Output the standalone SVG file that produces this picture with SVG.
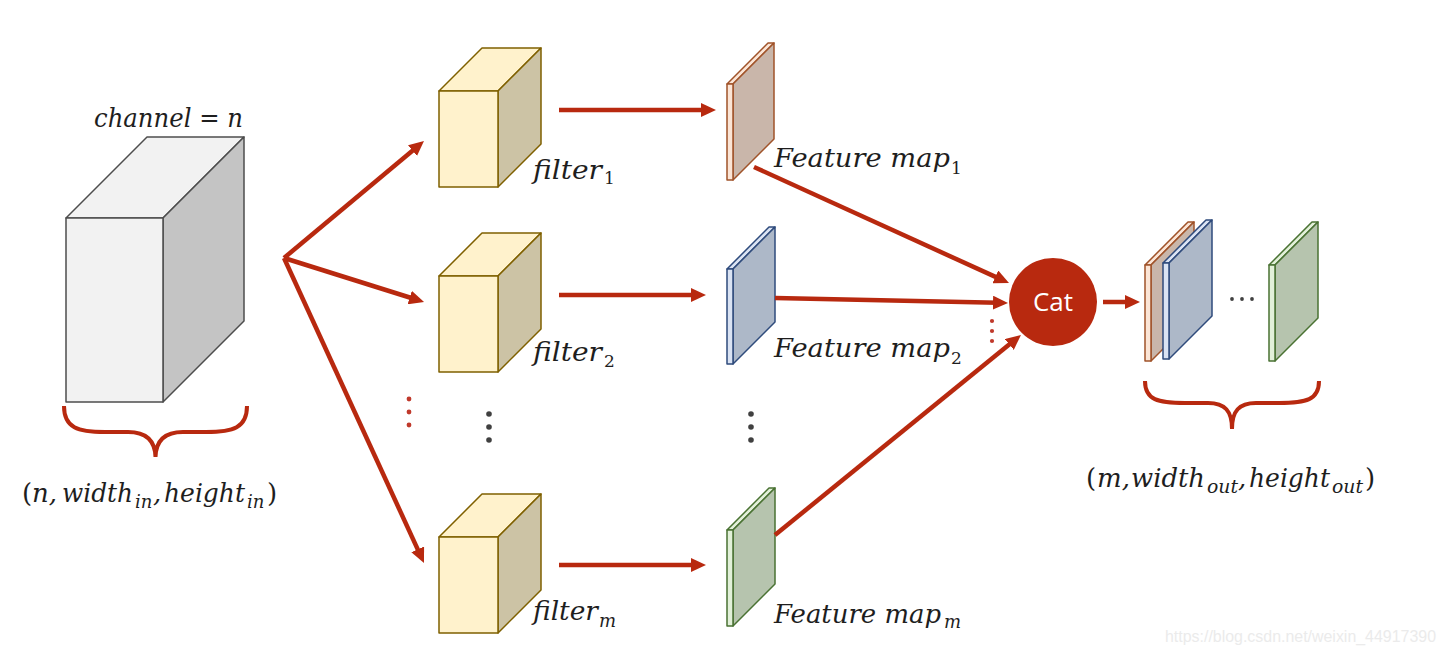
<svg xmlns="http://www.w3.org/2000/svg" width="1445" height="654" viewBox="0 0 1445 654">
<style>
.m{font-family:"DejaVu Serif","Liberation Serif",serif;font-style:italic;fill:#1e1e1e;font-size:26px}
.s{font-family:"DejaVu Serif","Liberation Serif",serif;font-style:italic;fill:#1e1e1e;font-size:18px}
.u{font-family:"DejaVu Serif","Liberation Serif",serif;font-style:normal;fill:#1e1e1e;font-size:17px}
.p{font-family:"DejaVu Serif","Liberation Serif",serif;font-style:normal;fill:#1e1e1e;font-size:26px}
.arr{stroke:#B8290F;stroke-width:4.5;fill:none;marker-end:url(#ah)}
.brace{stroke:#B8290F;stroke-width:4;fill:none}
.bigF{fill:#F2F2F2;stroke:#4D4D4D;stroke-width:1.5;stroke-linejoin:round}
.bigS{fill:#C4C4C4;stroke:#4D4D4D;stroke-width:1.5;stroke-linejoin:round}
.fF{fill:#FFF2CC;stroke:#7F6000;stroke-width:1.5;stroke-linejoin:round}
.fS{fill:#CCC3A5;stroke:#7F6000;stroke-width:1.5;stroke-linejoin:round}
.oL{fill:#FBE5D6;stroke:#A0532A;stroke-width:1.5;stroke-linejoin:round}
.oS{fill:#C9B6AA;stroke:#A0532A;stroke-width:1.5;stroke-linejoin:round}
.bL{fill:#DAE3F3;stroke:#2F4B7C;stroke-width:1.5;stroke-linejoin:round}
.bS{fill:#ADB8C8;stroke:#2F4B7C;stroke-width:1.5;stroke-linejoin:round}
.gL{fill:#E2F0D9;stroke:#4A7233;stroke-width:1.5;stroke-linejoin:round}
.gS{fill:#B6C4AE;stroke:#4A7233;stroke-width:1.5;stroke-linejoin:round}
.rd{fill:#C0392B}
.dd{fill:#404040}
</style>
<defs>
<marker id="ah" markerUnits="userSpaceOnUse" markerWidth="15" markerHeight="14" viewBox="0 0 15 14" refX="5" refY="7" orient="auto">
<path d="M0,0 L15,7 L0,14 z" fill="#B8290F"/>
</marker>
<g id="fcube">
<polygon class="fF" points="0,0 43,-43 102,-43 59,0"/>
<polygon class="fS" points="59,0 102,-43 102,53 59,96"/>
<rect class="fF" x="0" y="0" width="59" height="96"/>
</g>
</defs>
<rect width="1445" height="654" fill="#FFFFFF"/>

<g id="input">
<polygon class="bigF" points="66,218 147,137 244,137 163,218"/>
<polygon class="bigS" points="163,218 244,137 244,321 163,402"/>
<rect class="bigF" x="66" y="218" width="97" height="184"/>
<text class="m" x="94" y="127" textLength="149" lengthAdjust="spacingAndGlyphs">channel = n</text>
<path class="brace" d="M64,406 C64,428 78,432 105,432 L128,432 C146,432 155,440 155.5,457 C156,440 165,432 183,432 L206,432 C233,432 247,428 247,406"/>
<text class="p" x="22" y="502">(</text>
<text class="m" x="32" y="502">n,</text>
<text class="m" x="62" y="502" textLength="71" lengthAdjust="spacingAndGlyphs">width</text>
<text class="s" x="135" y="508">in</text>
<text class="m" x="153" y="502">,</text>
<text class="m" x="164" y="502" textLength="81" lengthAdjust="spacingAndGlyphs">height</text>
<text class="s" x="247" y="508">in</text>
<text class="p" x="267" y="502">)</text>
</g>

<g id="filter1">
<use href="#fcube" x="439" y="91"/>
<text class="m" x="533" y="179" textLength="69" lengthAdjust="spacingAndGlyphs">filter</text>
<text class="u" x="604" y="184">1</text>
</g>
<g id="filter2">
<use href="#fcube" x="439" y="276"/>
<text class="m" x="533" y="361" textLength="69" lengthAdjust="spacingAndGlyphs">filter</text>
<text class="u" x="604" y="367">2</text>
</g>
<g id="filterm">
<use href="#fcube" x="439" y="537"/>
<text class="m" x="533" y="620" textLength="65" lengthAdjust="spacingAndGlyphs">filter</text>
<text class="s" x="599" y="627">m</text>
</g>

<g id="fmap1">
<polygon class="oL" points="727,84 768,43 774,43 733,84"/>
<polygon class="oS" points="733,84 774,43 774,139 733,180"/>
<rect class="oL" x="727" y="84" width="6" height="96"/>
<text class="m" x="774" y="167" textLength="176" lengthAdjust="spacingAndGlyphs">Feature map</text>
<text class="u" x="951" y="174">1</text>
</g>
<g id="fmap2">
<polygon class="bL" points="727,269 769,227 775,227 733,269"/>
<polygon class="bS" points="733,269 775,227 775,322 733,364"/>
<rect class="bL" x="727" y="269" width="6" height="95"/>
<text class="m" x="774" y="357" textLength="176" lengthAdjust="spacingAndGlyphs">Feature map</text>
<text class="u" x="951" y="364">2</text>
</g>
<g id="fmapm">
<polygon class="gL" points="727,530 769,488 775,488 733,530"/>
<polygon class="gS" points="733,530 775,488 775,584 733,626"/>
<rect class="gL" x="727" y="530" width="6" height="96"/>
<text class="m" x="774" y="623" textLength="167" lengthAdjust="spacingAndGlyphs">Feature map</text>
<text class="s" x="944" y="628">m</text>
</g>

<g id="cat">
<circle cx="1053" cy="302" r="44" fill="#B8290F"/>
<text x="1053" y="311" text-anchor="middle" font-family="'Open Sans','Noto Sans',sans-serif" font-size="26" fill="#FFFFFF">Cat</text>
</g>

<g id="output">
<polygon class="oL" points="1145,265 1188,222 1194,222 1151,265"/>
<polygon class="oS" points="1151,265 1194,222 1194,318 1151,361"/>
<rect class="oL" x="1145" y="265" width="6" height="96"/>
<polygon class="bL" points="1163,263 1206,220 1212,220 1169,263"/>
<polygon class="bS" points="1169,263 1212,220 1212,316 1169,359"/>
<rect class="bL" x="1163" y="263" width="6" height="96"/>
<polygon class="gL" points="1269,265 1312,222 1318,222 1275,265"/>
<polygon class="gS" points="1275,265 1318,222 1318,318 1275,361"/>
<rect class="gL" x="1269" y="265" width="6" height="96"/>
<circle class="dd" cx="1232" cy="299" r="1.9"/>
<circle class="dd" cx="1242" cy="299" r="1.9"/>
<circle class="dd" cx="1252" cy="299" r="1.9"/>
<path class="brace" d="M1145,381 C1145,400 1158,403 1185,403 L1208,403 C1225,403 1232,411 1232,429 C1232,411 1239,403 1256,403 L1279,403 C1306,403 1319,400 1319,381"/>
<text class="p" x="1086" y="487">(</text>
<text class="m" x="1097" y="487">m,</text>
<text class="m" x="1131" y="487" textLength="74" lengthAdjust="spacingAndGlyphs">width</text>
<text class="s" x="1207" y="493" textLength="31" lengthAdjust="spacingAndGlyphs">out</text>
<text class="m" x="1238" y="487">,</text>
<text class="m" x="1249" y="487" textLength="81" lengthAdjust="spacingAndGlyphs">height</text>
<text class="s" x="1332" y="493" textLength="31" lengthAdjust="spacingAndGlyphs">out</text>
<text class="p" x="1365" y="487">)</text>
</g>

<g id="dots">
<circle class="rd" cx="409" cy="399" r="2.4"/>
<circle class="rd" cx="409" cy="412" r="2.4"/>
<circle class="rd" cx="409" cy="425" r="2.4"/>
<circle class="dd" cx="489" cy="414" r="2.8"/>
<circle class="dd" cx="489" cy="427" r="2.8"/>
<circle class="dd" cx="489" cy="440" r="2.8"/>
<circle class="dd" cx="751" cy="414" r="2.8"/>
<circle class="dd" cx="751" cy="427" r="2.8"/>
<circle class="dd" cx="751" cy="440" r="2.8"/>
<circle class="rd" cx="992" cy="321" r="2.1"/>
<circle class="rd" cx="992" cy="331" r="2.1"/>
<circle class="rd" cx="992" cy="341" r="2.1"/>
</g>

<g id="connectors">
<line class="arr" x1="284" y1="258" x2="416.3" y2="147.4"/>
<line class="arr" x1="284" y1="258" x2="414.5" y2="299"/>
<line class="arr" x1="284" y1="258" x2="419.8" y2="553.9"/>
<line class="arr" x1="559" y1="110" x2="706" y2="110"/>
<line class="arr" x1="559" y1="295" x2="696" y2="295"/>
<line class="arr" x1="559" y1="565" x2="696" y2="565"/>
<line class="arr" x1="754" y1="167" x2="999.9" y2="278.9"/>
<line class="arr" x1="775" y1="298" x2="998" y2="302.8"/>
<line class="arr" x1="775" y1="535" x2="1013.2" y2="341.3"/>
<line class="arr" x1="1103" y1="302" x2="1130" y2="302"/>
</g>

<text x="1165" y="642" font-family="'Liberation Sans',Arial,sans-serif" font-size="16" fill="#EBEBEB" textLength="271" lengthAdjust="spacingAndGlyphs">https://blog.csdn.net/weixin_44917390</text>
</svg>
